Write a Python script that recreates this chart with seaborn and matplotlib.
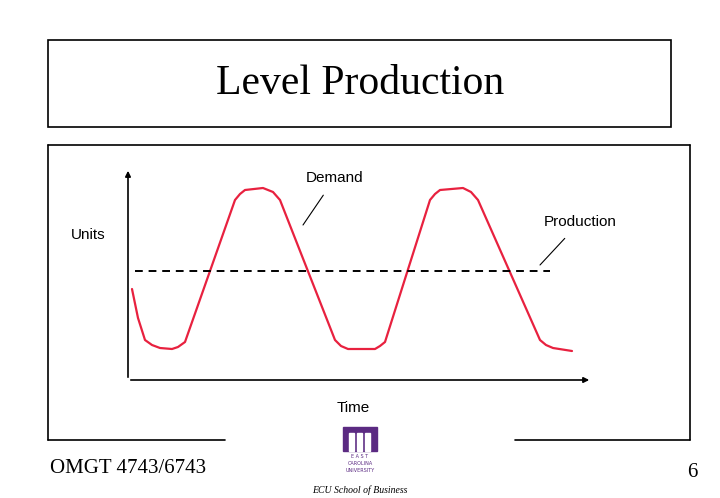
import matplotlib
matplotlib.use("Agg")
import matplotlib.pyplot as plt
import seaborn as sns
from matplotlib.patches import Rectangle

sns.set_style("white")
plt.rcParams["text.color"] = "black"

# demand curve (time vs units, arbitrary scale)
demand_time = [4, 10, 17, 24, 32, 44, 50, 57, 107, 112, 117, 135, 145, 152, 207, 213, 220, 247, 252, 257, 302, 307, 312, 335, 343, 350, 412, 418, 425, 444]
demand_units = [91, 62, 40, 35, 32, 31, 33, 38, 180, 186, 190, 192, 188, 180, 40, 34, 31, 31, 34, 38, 180, 186, 190, 192, 188, 180, 40, 35, 32, 29]
production_level = 109
production_span = [7, 422]

red = "#e8213f"
fig = plt.figure(figsize=(7.2, 4.98), dpi=100)

# slide frame axis in pixel coordinates
bg = fig.add_axes([0, 0, 1, 1])
bg.set_xlim(0, 720)
bg.set_ylim(498, 0)
bg.axis("off")
bg.add_patch(Rectangle((48, 40), 623, 87, fill=False, lw=1.2, color="black"))
bg.text(360, 84, "Level Production", ha="center", va="center",
        fontsize=30, family="Liberation Serif")
bg.plot([48, 690], [145, 145], color="black", lw=1.2)
bg.plot([48, 48], [145, 440], color="black", lw=1.2)
bg.plot([690, 690], [145, 440], color="black", lw=1.2)
bg.plot([48, 225], [440, 440], color="black", lw=1.2)
bg.plot([515, 690], [440, 440], color="black", lw=1.2)
bg.text(50, 468, "OMGT 4743/6743", ha="left", va="center", fontsize=15, family="Liberation Serif")
bg.text(692, 472, "6", ha="center", va="center", fontsize=15, family="Liberation Serif")
# logo
bg.add_patch(Rectangle((343, 427), 34, 24, color="#5b2a82"))
for xx in (349, 357, 365):
    bg.add_patch(Rectangle((xx, 433), 5, 18, color="white"))
bg.text(360, 456, "E A S T", ha="center", va="center", fontsize=3.5, color="#5b2a82")
bg.text(360, 463, "CAROLINA", ha="center", va="center", fontsize=3.5, color="#5b2a82")
bg.text(360, 470, "UNIVERSITY", ha="center", va="center", fontsize=3.5, color="#5b2a82")
bg.text(360, 490, "ECU School of Business", ha="center", va="center", fontsize=7,
        style="italic", family="Liberation Serif")
bg.text(88, 235, "Units", ha="center", va="center", fontsize=11, family="Liberation Sans")
bg.text(353, 408, "Time", ha="center", va="center", fontsize=11, family="Liberation Sans")

# chart axes: x 128-592 px, y 168-380 px
ax = fig.add_axes([128 / 720, 1 - 380 / 498, 464 / 720, 212 / 498])
ax.set_xlim(0, 464)
ax.set_ylim(0, 212)
ax.axis("off")
ax.patch.set_alpha(0)
ax.annotate("", xy=(464, 0), xytext=(0, 0),
            arrowprops=dict(arrowstyle="-|>", color="black", lw=1.2, mutation_scale=8))
ax.annotate("", xy=(0, 212), xytext=(0, 0),
            arrowprops=dict(arrowstyle="-|>", color="black", lw=1.2, mutation_scale=8))
sns.lineplot(x=demand_time, y=demand_units, ax=ax, color=red, lw=1.6, sort=False)
ax.plot(production_span, [production_level, production_level], color="black", lw=1.4, ls=(0, (4, 3)))
ax.annotate("Demand", xy=(175, 155), xytext=(207, 202), ha="center", va="center",
            fontsize=11, family="Liberation Sans",
            arrowprops=dict(arrowstyle="-", color="black", lw=0.8, shrinkA=6, shrinkB=0))
ax.annotate("Production", xy=(412, 115), xytext=(452, 158), ha="center", va="center",
            fontsize=11, family="Liberation Sans",
            arrowprops=dict(arrowstyle="-", color="black", lw=0.8, shrinkA=6, shrinkB=0))

fig.savefig("out.png", dpi=100)
